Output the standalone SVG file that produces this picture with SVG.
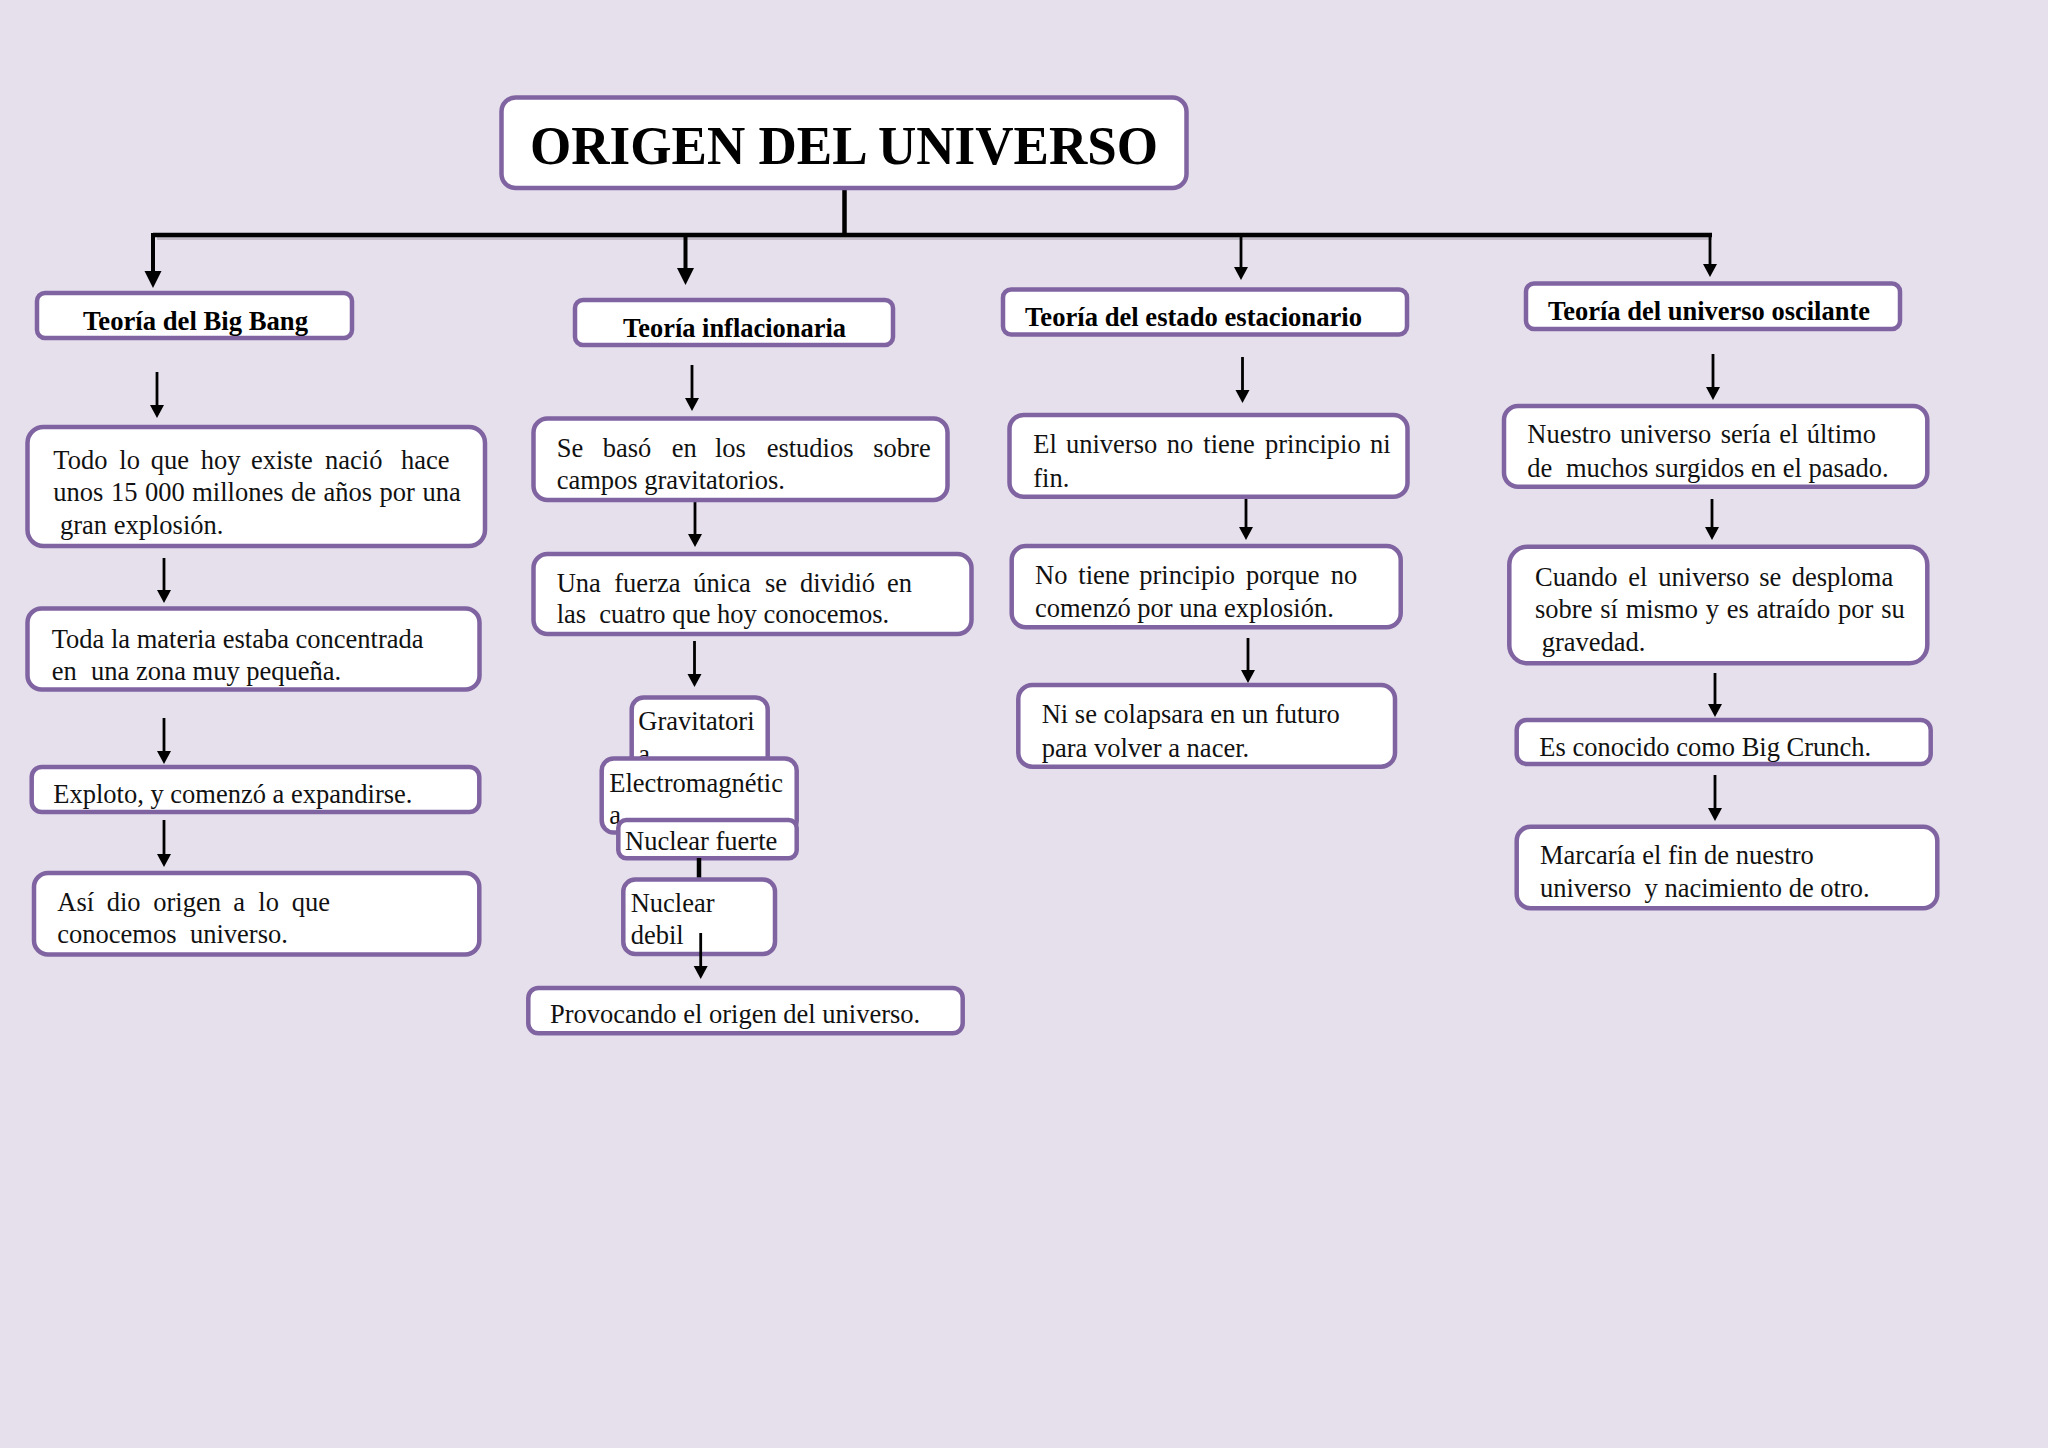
<svg xmlns="http://www.w3.org/2000/svg" width="2048" height="1448" viewBox="0 0 2048 1448">
<style>
.bg{fill:#E6E0EC}
.box{fill:#FFFFFF;stroke:#8064A2;stroke-width:4.5}
.t{font-family:"Liberation Serif","Times New Roman",serif;font-size:26.5px;fill:#111}
.h{font-family:"Liberation Serif","Times New Roman",serif;font-size:26.3px;font-weight:bold;fill:#000}
.title{font-family:"Liberation Serif","Times New Roman",serif;font-size:54px;font-weight:bold;fill:#000}
.main{stroke:#000;stroke-width:4.5;fill:none}
.shadow{stroke:#9a96a0;stroke-width:4;fill:none;opacity:0.5}
.arb{stroke:#000;stroke-width:4;fill:none}
.ar{stroke:#000;stroke-width:2.8;fill:none}
</style>
<defs>
<marker id="ahb" markerUnits="userSpaceOnUse" markerWidth="18" markerHeight="18" refX="1" refY="8.5" orient="auto">
<path d="M0,0 L17,8.5 L0,17 z" fill="#000"/>
</marker>
<marker id="ah" markerUnits="userSpaceOnUse" markerWidth="15" markerHeight="15" refX="1" refY="7" orient="auto">
<path d="M0,0 L13,7 L0,14 z" fill="#000"/>
</marker>
</defs>
<rect class="bg" x="0" y="0" width="2048" height="1448"/>

<g id="connectors">
<line class="shadow" x1="157" y1="238" x2="1712" y2="238"/>
<line class="main" x1="844.5" y1="188" x2="844.5" y2="235"/>
<line class="main" x1="153" y1="235" x2="1712" y2="235"/>
<line class="arb" x1="153" y1="233" x2="153" y2="272" marker-end="url(#ahb)"/>
<line class="arb" x1="685.5" y1="237" x2="685.5" y2="269" marker-end="url(#ahb)"/>
<line class="ar" x1="1241" y1="237" x2="1241" y2="268" marker-end="url(#ah)"/>
<line class="ar" x1="1710" y1="233" x2="1710" y2="265" marker-end="url(#ah)"/>

<line class="ar" x1="157" y1="372" x2="157" y2="406" marker-end="url(#ah)"/>
<line class="ar" x1="164" y1="558" x2="164" y2="591" marker-end="url(#ah)"/>
<line class="ar" x1="164" y1="718" x2="164" y2="752" marker-end="url(#ah)"/>
<line class="ar" x1="164" y1="820" x2="164" y2="855" marker-end="url(#ah)"/>

<line class="ar" x1="692" y1="365" x2="692" y2="399" marker-end="url(#ah)"/>
<line class="ar" x1="695" y1="502" x2="695" y2="535" marker-end="url(#ah)"/>
<line class="ar" x1="694.5" y1="641" x2="694.5" y2="675" marker-end="url(#ah)"/>

<line class="ar" x1="1242.5" y1="357" x2="1242.5" y2="391" marker-end="url(#ah)"/>
<line class="ar" x1="1246" y1="498" x2="1246" y2="528" marker-end="url(#ah)"/>
<line class="ar" x1="1248" y1="638" x2="1248" y2="671" marker-end="url(#ah)"/>

<line class="ar" x1="1713" y1="354" x2="1713" y2="388" marker-end="url(#ah)"/>
<line class="ar" x1="1712" y1="499" x2="1712" y2="528" marker-end="url(#ah)"/>
<line class="ar" x1="1715" y1="673" x2="1715" y2="705" marker-end="url(#ah)"/>
<line class="ar" x1="1715" y1="775" x2="1715" y2="809" marker-end="url(#ah)"/>
</g>

<g id="title">
<rect class="box" x="501.5" y="97.5" width="685" height="90.5" rx="14" stroke-width="4.5"/>
<text class="title" x="530" y="164" textLength="628" lengthAdjust="spacingAndGlyphs">ORIGEN DEL UNIVERSO</text>
</g>

<g id="h-bigbang">
<rect class="box" x="37" y="293" width="315" height="45" rx="8"/>
<text class="h" x="83" y="330" textLength="225" lengthAdjust="spacingAndGlyphs">Teoría del Big Bang</text>
</g>
<g id="h-inflacionaria">
<rect class="box" x="575" y="300" width="318" height="45" rx="8"/>
<text class="h" x="623" y="337" textLength="223" lengthAdjust="spacingAndGlyphs">Teoría inflacionaria</text>
</g>
<g id="h-estacionario">
<rect class="box" x="1003" y="289.5" width="404" height="45" rx="8"/>
<text class="h" x="1025" y="326" textLength="337" lengthAdjust="spacingAndGlyphs">Teoría del estado estacionario</text>
</g>
<g id="h-oscilante">
<rect class="box" x="1526" y="283.5" width="374" height="45.5" rx="8"/>
<text class="h" x="1548" y="319.5" textLength="322" lengthAdjust="spacingAndGlyphs">Teoría del universo oscilante</text>
</g>

<g id="n-todo">
<rect class="box" x="27.5" y="427" width="457.5" height="119" rx="16"/>
<text class="t" y="468.5"><tspan x="53.3">Todo</tspan><tspan x="119.3">lo</tspan><tspan x="150.7">que</tspan><tspan x="200.7">hoy</tspan><tspan x="251">existe</tspan><tspan x="325">nació</tspan><tspan x="401">hace</tspan></text>
<text class="t" x="53.3" y="501" word-spacing="0.9">unos 15 000 millones de años por una</text>
<text class="t" x="60" y="533.5">gran explosión.</text>
</g>
<g id="n-toda">
<rect class="box" x="27.5" y="608.5" width="452" height="81" rx="14"/>
<text class="t" x="51.7" y="647.5">Toda la materia estaba concentrada</text>
<text class="t" y="679.5"><tspan x="51.7">en</tspan><tspan x="91">una zona muy pequeña.</tspan></text>
</g>
<g id="n-exploto">
<rect class="box" x="31.7" y="767" width="447.6" height="45" rx="10"/>
<text class="t" x="53.3" y="802.7">Exploto, y comenzó a expandirse.</text>
</g>
<g id="n-asi">
<rect class="box" x="34" y="873" width="445.3" height="81.5" rx="14"/>
<text class="t" y="910.7"><tspan x="57.3">Así</tspan><tspan x="106.7">dio</tspan><tspan x="153.3">origen</tspan><tspan x="233.3">a</tspan><tspan x="258.3">lo</tspan><tspan x="291.7">que</tspan></text>
<text class="t" y="943.3"><tspan x="57.3">conocemos</tspan><tspan x="190">universo.</tspan></text>
</g>

<g id="n-sebaso">
<rect class="box" x="533.5" y="418.5" width="414" height="81.5" rx="14"/>
<text class="t" y="456.7"><tspan x="556.7">Se</tspan><tspan x="602.7">basó</tspan><tspan x="671.7">en</tspan><tspan x="715">los</tspan><tspan x="766.7">estudios</tspan><tspan x="873.3">sobre</tspan></text>
<text class="t" x="556.7" y="489.3">campos gravitatorios.</text>
</g>
<g id="n-fuerza">
<rect class="box" x="533.5" y="554" width="438" height="80" rx="14"/>
<text class="t" y="591.7"><tspan x="556.7">Una</tspan><tspan x="614.3">fuerza</tspan><tspan x="693.3">única</tspan><tspan x="765">se</tspan><tspan x="800">dividió</tspan><tspan x="887">en</tspan></text>
<text class="t" y="623.3"><tspan x="556.7">las</tspan><tspan x="599.3">cuatro que hoy conocemos.</tspan></text>
</g>
<g id="n-gravitatoria">
<rect class="box" x="631.7" y="697.5" width="136" height="80" rx="12"/>
<text class="t" x="638.3" y="730">Gravitatori</text>
<text class="t" x="638.3" y="763">a</text>
</g>
<g id="n-electromagnetica">
<rect class="box" x="601.7" y="758.5" width="195" height="74" rx="12"/>
<text class="t" x="609.3" y="791.7">Electromagnétic</text>
<text class="t" x="609.3" y="823.7">a</text>
</g>
<g id="n-fuerte">
<rect class="box" x="618.3" y="820" width="178.4" height="38.3" rx="8"/>
<text class="t" x="625" y="850">Nuclear fuerte</text>
</g>
<g id="connector-fuerte-debil">
<line class="main" x1="699" y1="858" x2="699" y2="880"/>
</g>
<g id="n-debil">
<rect class="box" x="623.3" y="879.5" width="151.7" height="74.5" rx="12"/>
<text class="t" x="630.7" y="911.7">Nuclear</text>
<text class="t" x="630.7" y="944">debil</text>
</g>
<g id="connector-debil">
<line class="ar" x1="700.7" y1="933" x2="700.7" y2="967" marker-end="url(#ah)"/>
</g>
<g id="n-provocando">
<rect class="box" x="528.3" y="988" width="434.4" height="45.3" rx="10"/>
<text class="t" x="550" y="1023.3">Provocando el origen del universo.</text>
</g>

<g id="n-principio">
<rect class="box" x="1009.5" y="415" width="398" height="81.7" rx="14"/>
<text class="t" y="453.3"><tspan x="1033.3">El</tspan><tspan x="1066">universo</tspan><tspan x="1166.7">no</tspan><tspan x="1203.3">tiene</tspan><tspan x="1265">principio</tspan><tspan x="1370">ni</tspan></text>
<text class="t" x="1033.3" y="486.7">fin.</text>
</g>
<g id="n-notiene">
<rect class="box" x="1011.7" y="546" width="389" height="81.3" rx="14"/>
<text class="t" y="584"><tspan x="1035">No</tspan><tspan x="1078.3">tiene</tspan><tspan x="1139.3">principio</tspan><tspan x="1246">porque</tspan><tspan x="1330.7">no</tspan></text>
<text class="t" x="1035" y="617.3">comenzó por una explosión.</text>
</g>
<g id="n-colapsara">
<rect class="box" x="1018.3" y="685" width="376.7" height="81.7" rx="14"/>
<text class="t" x="1041.7" y="723.3">Ni se colapsara en un futuro</text>
<text class="t" x="1041.7" y="757.3">para volver a nacer.</text>
</g>

<g id="n-nuestro">
<rect class="box" x="1504" y="406" width="423.3" height="80.7" rx="14"/>
<text class="t" y="443.3"><tspan x="1527.3">Nuestro</tspan><tspan x="1620">universo</tspan><tspan x="1720.7">sería</tspan><tspan x="1779.3">el</tspan><tspan x="1806.7">último</tspan></text>
<text class="t" y="476.7"><tspan x="1527.3">de</tspan><tspan x="1566">muchos surgidos en el pasado.</tspan></text>
</g>
<g id="n-cuando">
<rect class="box" x="1509.3" y="546.7" width="418" height="116.6" rx="18"/>
<text class="t" y="586"><tspan x="1535">Cuando</tspan><tspan x="1628.3">el</tspan><tspan x="1658.3">universo</tspan><tspan x="1759.3">se</tspan><tspan x="1791.7">desploma</tspan></text>
<text class="t" x="1535" y="618.3" word-spacing="1.2">sobre sí mismo y es atraído por su</text>
<text class="t" x="1541.7" y="650.7">gravedad.</text>
</g>
<g id="n-crunch">
<rect class="box" x="1516.7" y="720" width="414" height="44" rx="10"/>
<text class="t" x="1539.3" y="756">Es conocido como Big Crunch.</text>
</g>
<g id="n-marcaria">
<rect class="box" x="1516.7" y="826.7" width="420.6" height="81.6" rx="14"/>
<text class="t" x="1540" y="864">Marcaría el fin de nuestro</text>
<text class="t" y="897.3"><tspan x="1540">universo</tspan><tspan x="1644.5">y nacimiento de otro.</tspan></text>
</g>
</svg>
